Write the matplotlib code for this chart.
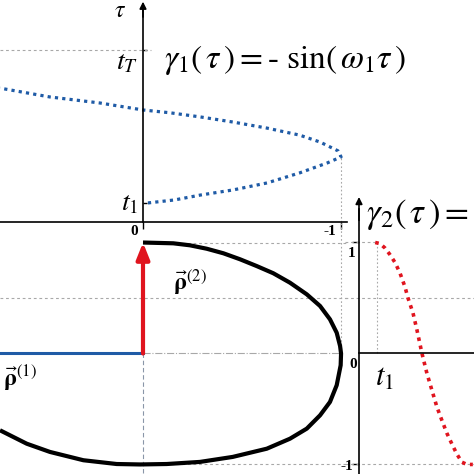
import matplotlib
matplotlib.use("Agg")
import matplotlib.pyplot as plt

plt.rcParams['mathtext.fontset'] = 'stix'
plt.rcParams['font.family'] = 'serif'
plt.rcParams['font.serif'] = ['Liberation Serif', 'DejaVu Serif']

# time marks (tau in quarter-period units)
T0 = 0.59
T1 = 1.0
TT = 4.29

# gamma_1(tau), top panel
tau1 = [1.0, 1.065, 1.17, 1.28, 1.43, 1.645, 1.86, 1.99, 2.12, 2.31, 2.46,
        2.61, 2.74, 2.85, 2.94, 3.0, 3.15, 3.28, 3.47]
gamma1 = [-0.025, -0.16, -0.29, -0.455, -0.626, -0.79, -0.93, -1.0, -0.985,
          -0.894, -0.79, -0.626, -0.455, -0.29, -0.136, 0.0, 0.217, 0.47, 0.722]

# trajectory (gamma_1, gamma_2), bottom panel
ell_g1 = [0.0, -0.153, -0.237, -0.322, -0.406, -0.49, -0.574, -0.658, -0.742,
          -0.827, -0.894, -0.944, -0.978, -0.995, -1.0, -0.998, -0.978,
          -0.944, -0.894, -0.827, -0.742, -0.625, -0.453, -0.288, -0.12,
          0.015, 0.133, 0.301, 0.47, 0.587, 0.722]
ell_g2 = [1.0, 0.993, 0.975, 0.944, 0.903, 0.849, 0.788, 0.723, 0.638,
          0.533, 0.428, 0.308, 0.187, 0.068, 0.0, -0.106, -0.286,
          -0.437, -0.557, -0.677, -0.768, -0.858, -0.932, -0.977, -0.996,
          -1.0, -0.996, -0.962, -0.887, -0.813, -0.692]

# gamma_2(tau), right panel
tau2 = [0.95, 1.057, 1.168, 1.279, 1.39, 1.501, 1.612, 1.679, 1.79, 1.879,
        1.99, 2.10, 2.21, 2.32, 2.43, 2.545, 2.66, 2.77, 2.88, 2.99, 3.12]
gamma2 = [1.0, 0.99, 0.95, 0.89, 0.82, 0.725, 0.60, 0.50, 0.365, 0.21, 0.0,
          -0.18, -0.33, -0.48, -0.60, -0.72, -0.82, -0.91, -0.98, -1.0, -1.0]

W = 474.0
BLUE = '#1f5ba6'
RED = '#e0141e'
GREY = '#a8a8a8'
DOT = (0, (1, 1.3))
GDASH = (0, (2.5, 2.5))


def px_axes(fig, x0, y0, x1, y1):
    # pixel box (y from top) -> figure axes
    return fig.add_axes([x0 / W, 1 - y1 / W, (x1 - x0) / W, (y1 - y0) / W])


fig = plt.figure(figsize=(4.74, 4.74), dpi=100)

# ---------------- top panel: tau vs gamma_1 ----------------
ax_t = px_axes(fig, 0, 0, 347, 222)
ax_t.set_xlim(0.722, -1.03)
ax_t.set_ylim(T0, 5.366)
ax_t.patch.set_alpha(0)
for s in ['top', 'right']:
    ax_t.spines[s].set_visible(False)
ax_t.spines['left'].set_position(('data', 0))
ax_t.spines['left'].set_bounds(T0, 5.2)
ax_t.spines['bottom'].set_linewidth(1.2)
ax_t.spines['left'].set_linewidth(1.2)
ax_t.set_xticks([0, -1], labels=[])
ax_t.set_yticks([T1, TT], labels=[])
ax_t.tick_params(axis='x', direction='out', length=5, width=1)
ax_t.tick_params(axis='y', direction='in', length=3, width=1)
ax_t.annotate('', xy=(0, 5.33), xytext=(0, 5.0), annotation_clip=False,
              arrowprops=dict(arrowstyle='-|>', lw=1.2, color='k',
                              mutation_scale=10, shrinkA=0, shrinkB=0))
ax_t.plot([0.722, -0.04], [TT, TT], color=GREY, lw=0.8, ls=GDASH)
ax_t.plot([-1, -1], [T0, 1.99], color=GREY, lw=0.8, ls=(0, (1.5, 2)))
ax_t.plot(gamma1, tau1, color=BLUE, lw=2.3, ls=DOT, clip_on=False)

ax_t.text(0.116, 5.11, r'$\tau$', fontsize=17, ha='center', va='center')
ax_t.text(0.025, 4.02, r'$t_T$', fontsize=20, ha='right', va='center')
ax_t.text(0.025, 0.97, r'$t_1$', fontsize=20, ha='right', va='center')
ax_t.text(-0.105, 4.08,
          '$\\gamma_1(\\,\\tau\\,) = \\mathrm{\u2010\\ sin}(\\,\\omega_1\\tau\\,)$',
          fontsize=24, ha='left', va='center')

# ---------------- bottom panel: gamma_2 vs gamma_1 ----------------
ax_b = px_axes(fig, 0, 222, 347, 474)
ax_b.set_xlim(0.722, -1.03)
ax_b.set_ylim(-1.086, 1.185)
ax_b.axis('off')
ax_b.plot([0, -1.03], [1, 1], color=GREY, lw=0.8, ls=GDASH, clip_on=False)
ax_b.plot([0.722, -1.03], [0.5, 0.5], color=GREY, lw=0.8, ls=GDASH, clip_on=False)
ax_b.plot([0, -1], [0, 0], color=GREY, lw=0.8, ls='-.')
ax_b.plot([0, -1.03], [-1, -1], color=GREY, lw=0.8, ls=GDASH, clip_on=False)
ax_b.plot([-1, -1], [0, 1.185], color=GREY, lw=0.8, ls=(0, (1.5, 2)))
ax_b.plot([0, 0], [0, -1.086], color='#8a96a8', lw=0.8, ls=(0, (4, 2.5)))
ax_b.plot(ell_g1, ell_g2, color='k', lw=3, solid_capstyle='butt',
          solid_joinstyle='round')
ax_b.plot([0.722, 0], [0, 0], color=BLUE, lw=2.2)
ax_b.annotate('', xy=(0, 1.0), xytext=(0, 0),
              arrowprops=dict(arrowstyle='-|>,head_length=0.7,head_width=0.28',
                              lw=3, color=RED, mutation_scale=14,
                              shrinkA=0, shrinkB=0))

ax_b.text(0.045, 1.10, '0', fontsize=11, fontweight='bold', ha='center', va='center')
ax_b.text(-0.945, 1.095, '-1', fontsize=11, fontweight='bold', ha='center', va='center')
ax_b.text(-0.237, 0.64, r'$\vec{\mathbf{\rho}}^{(2)}$', fontsize=17,
          ha='center', va='center')
ax_b.text(0.62, -0.22, r'$\vec{\mathbf{\rho}}^{(1)}$', fontsize=17,
          ha='center', va='center')

# ---------------- right panel: gamma_2 vs tau ----------------
ax_r = px_axes(fig, 345, 190, 474, 474)
ax_r.set_xlim(0.279, 3.146)
ax_r.set_ylim(-1.086, 1.473)
ax_r.patch.set_alpha(0)
for s in ['top', 'right']:
    ax_r.spines[s].set_visible(False)
ax_r.spines['left'].set_position(('data', T0))
ax_r.spines['left'].set_bounds(-1.086, 1.3)
ax_r.spines['bottom'].set_position(('data', 0))
ax_r.spines['bottom'].set_bounds(T0, 3.146)
ax_r.spines['left'].set_linewidth(1.2)
ax_r.spines['bottom'].set_linewidth(1.2)
ax_r.set_xticks([])
ax_r.set_yticks([1, -1], labels=[])
ax_r.tick_params(axis='y', direction='out', length=5, width=1)
ax_r.annotate('', xy=(T0, 1.41), xytext=(T0, 1.2), annotation_clip=False,
              arrowprops=dict(arrowstyle='-|>', lw=1.2, color='k',
                              mutation_scale=10, shrinkA=0, shrinkB=0))
ax_r.plot([0.279, tau2[0]], [1, 1], color=GREY, lw=0.8, ls=GDASH)
ax_r.plot([0.279, 3.146], [0.5, 0.5], color=GREY, lw=0.8, ls=GDASH)
ax_r.plot([0.279, 3.146], [-1, -1], color=GREY, lw=0.8, ls=GDASH)
ax_r.plot([T1, T1], [0, 1], color=GREY, lw=0.8, ls=(0, (1.5, 2)))
ax_r.plot(tau2, gamma2, color=RED, lw=2.6, ls=DOT, clip_on=False)

ax_r.text(0.434, 0.90, '1', fontsize=11, fontweight='bold', ha='center', va='center')
ax_r.text(0.457, -0.10, '0', fontsize=11, fontweight='bold', ha='center', va='center')
ax_r.text(0.323, -1.02, '-1', fontsize=11, fontweight='bold', ha='center', va='center')
ax_r.text(1.15, -0.22, r'$t_1$', fontsize=22, ha='center', va='center')
ax_r.text(0.75, 1.25, r'$\gamma_2(\,\tau\,) =$', fontsize=25,
          ha='left', va='center', clip_on=False)

fig.savefig('out.png', dpi=100)
